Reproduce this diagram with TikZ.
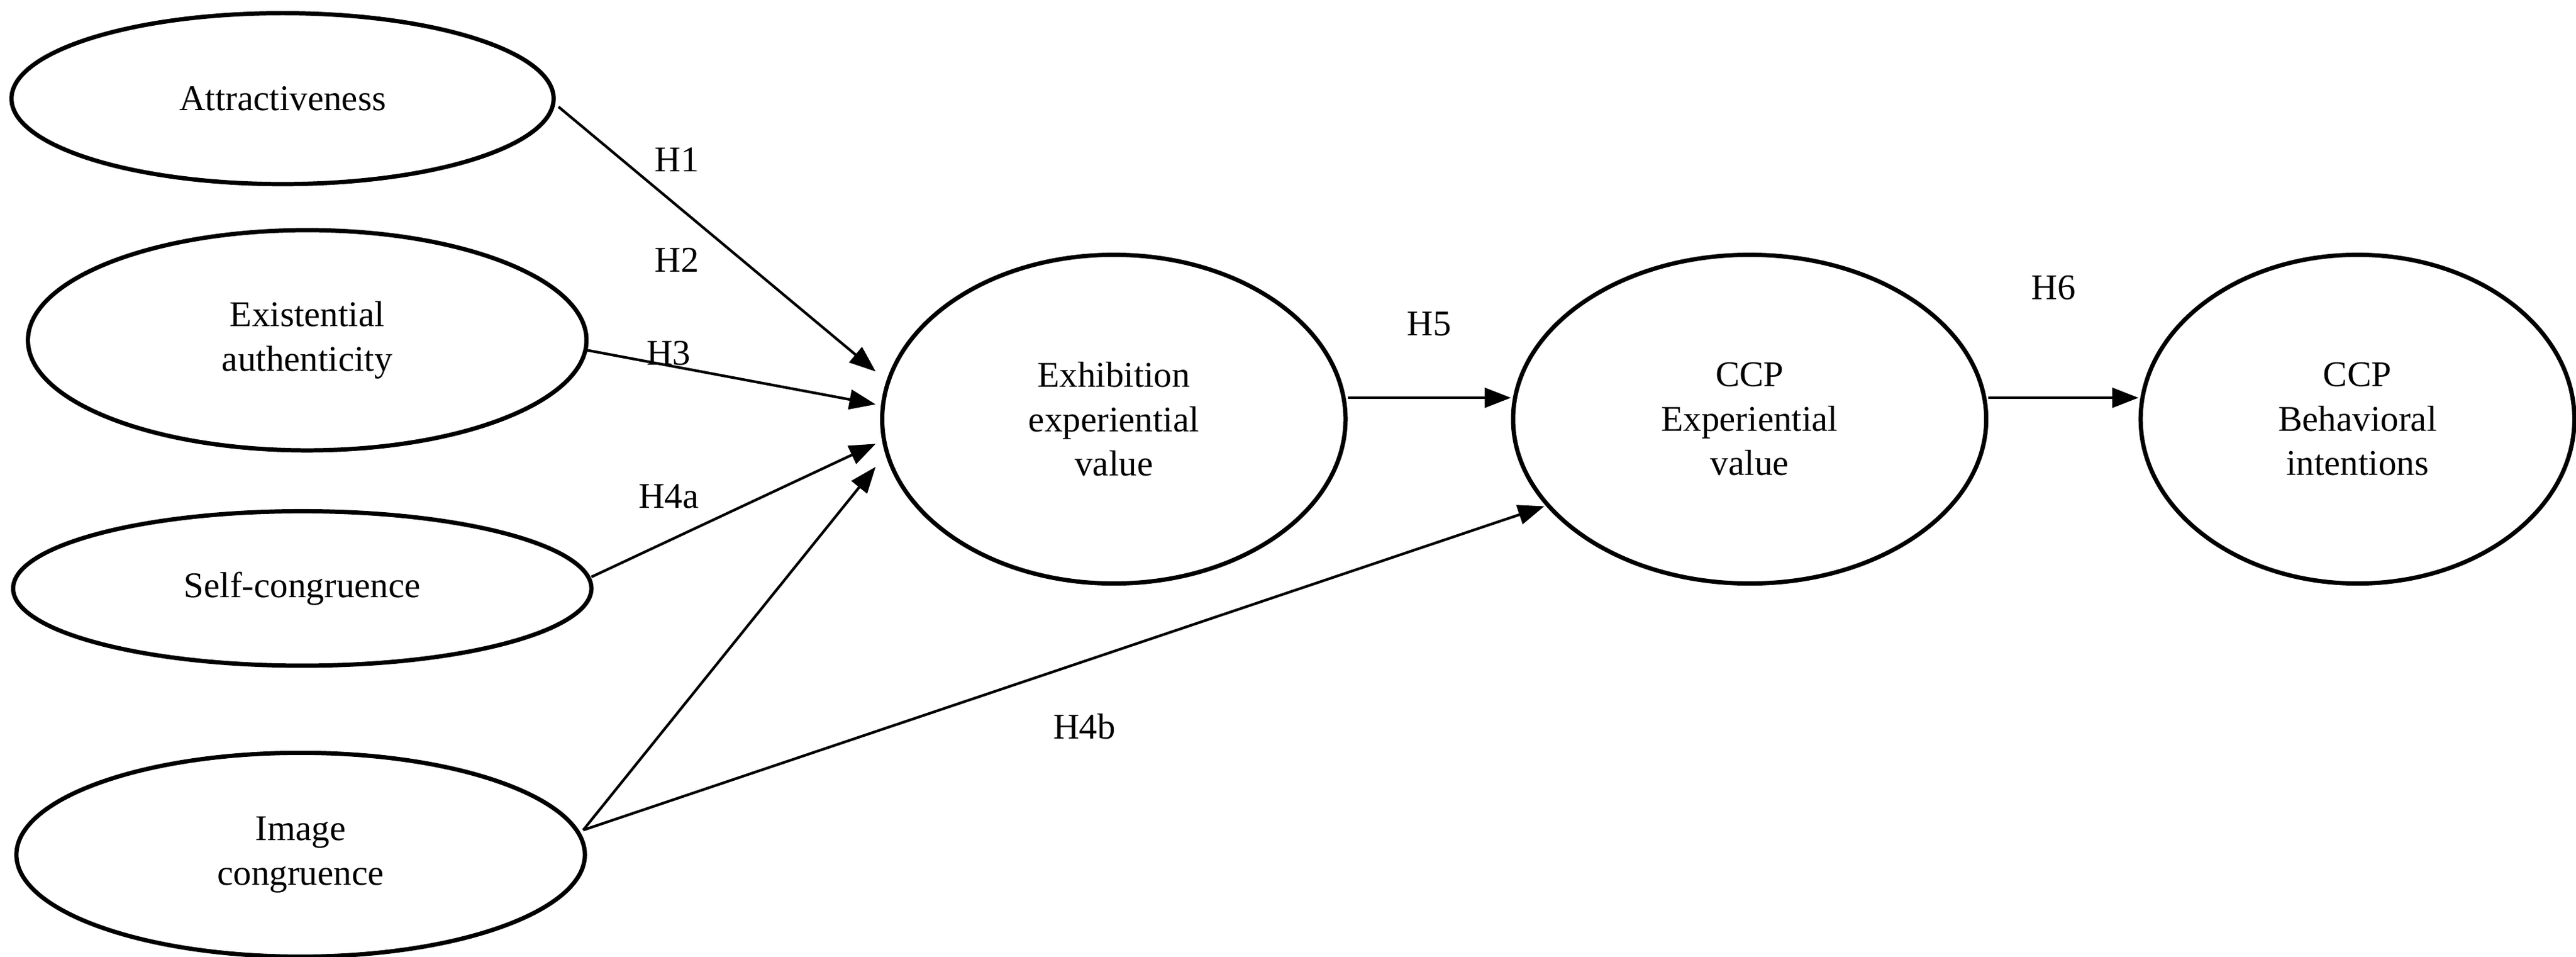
\documentclass[tikz,border=0pt]{standalone}
\usepackage{fontspec}
\setmainfont{Liberation Serif}
\usetikzlibrary{shapes.geometric,arrows.meta}
\begin{document}
\begin{tikzpicture}[x=1pt,y=-1pt,
  el/.style={ellipse,draw,line width=2.6pt,inner sep=0pt,align=center,font=\fontsize{22}{27}\selectfont},
  arr/.style={line width=1.6pt,-{Triangle[length=16pt,width=12pt]}},
  lab/.style={font=\fontsize{22}{27}\selectfont}]
\useasboundingbox (0,0) rectangle (1568,582);
\node[el,minimum width=330,minimum height=104] (a) at (172,60) {Attractiveness};
\node[el,minimum width=340,minimum height=134] (e) at (187,207) {Existential\\authenticity};
\node[el,minimum width=352,minimum height=94] (s) at (184,358) {Self-congruence};
\node[el,minimum width=346,minimum height=124] (i) at (183,520) {Image\\congruence};
\node[el,minimum width=282,minimum height=200] (x) at (678,255) {Exhibition\\experiential\\value};
\node[el,minimum width=288,minimum height=200] (c) at (1065,255) {CCP\\Experiential\\value};
\node[el,minimum width=264,minimum height=200] (b) at (1435,255) {CCP\\Behavioral\\intentions};
\coordinate (t1) at (533,226);
\coordinate (t2) at (533,246);
\coordinate (t3) at (533,270);
\coordinate (t4) at (533,284);
\coordinate (t5) at (940,308);
\coordinate (f1) at (340,65);
\coordinate (f2) at (357,213);
\coordinate (f3) at (360,351);
\coordinate (f4) at (355,505);
\draw[arr] (f1) -- (t1);
\draw[arr] (f2) -- (t2);
\draw[arr] (f3) -- (t3);
\draw[arr] (f4) -- (t4);
\draw[arr] (f4) -- (t5);
\draw[arr] (x.east |- 0,242) -- (c.west |- 0,242);
\draw[arr] (c.east |- 0,242) -- (b.west |- 0,242);
\node[lab] (h1) at (412,97) {H1};
\node[lab] (h2) at (412,158) {H2};
\node[lab] (h3) at (407,215) {H3};
\node[lab] (h4a) at (407,302) {H4a};
\node[lab] (h4b) at (660,442) {H4b};
\node[lab] (h5) at (870,197) {H5};
\node[lab] (h6) at (1250,175) {H6};
\end{tikzpicture}
\end{document}
